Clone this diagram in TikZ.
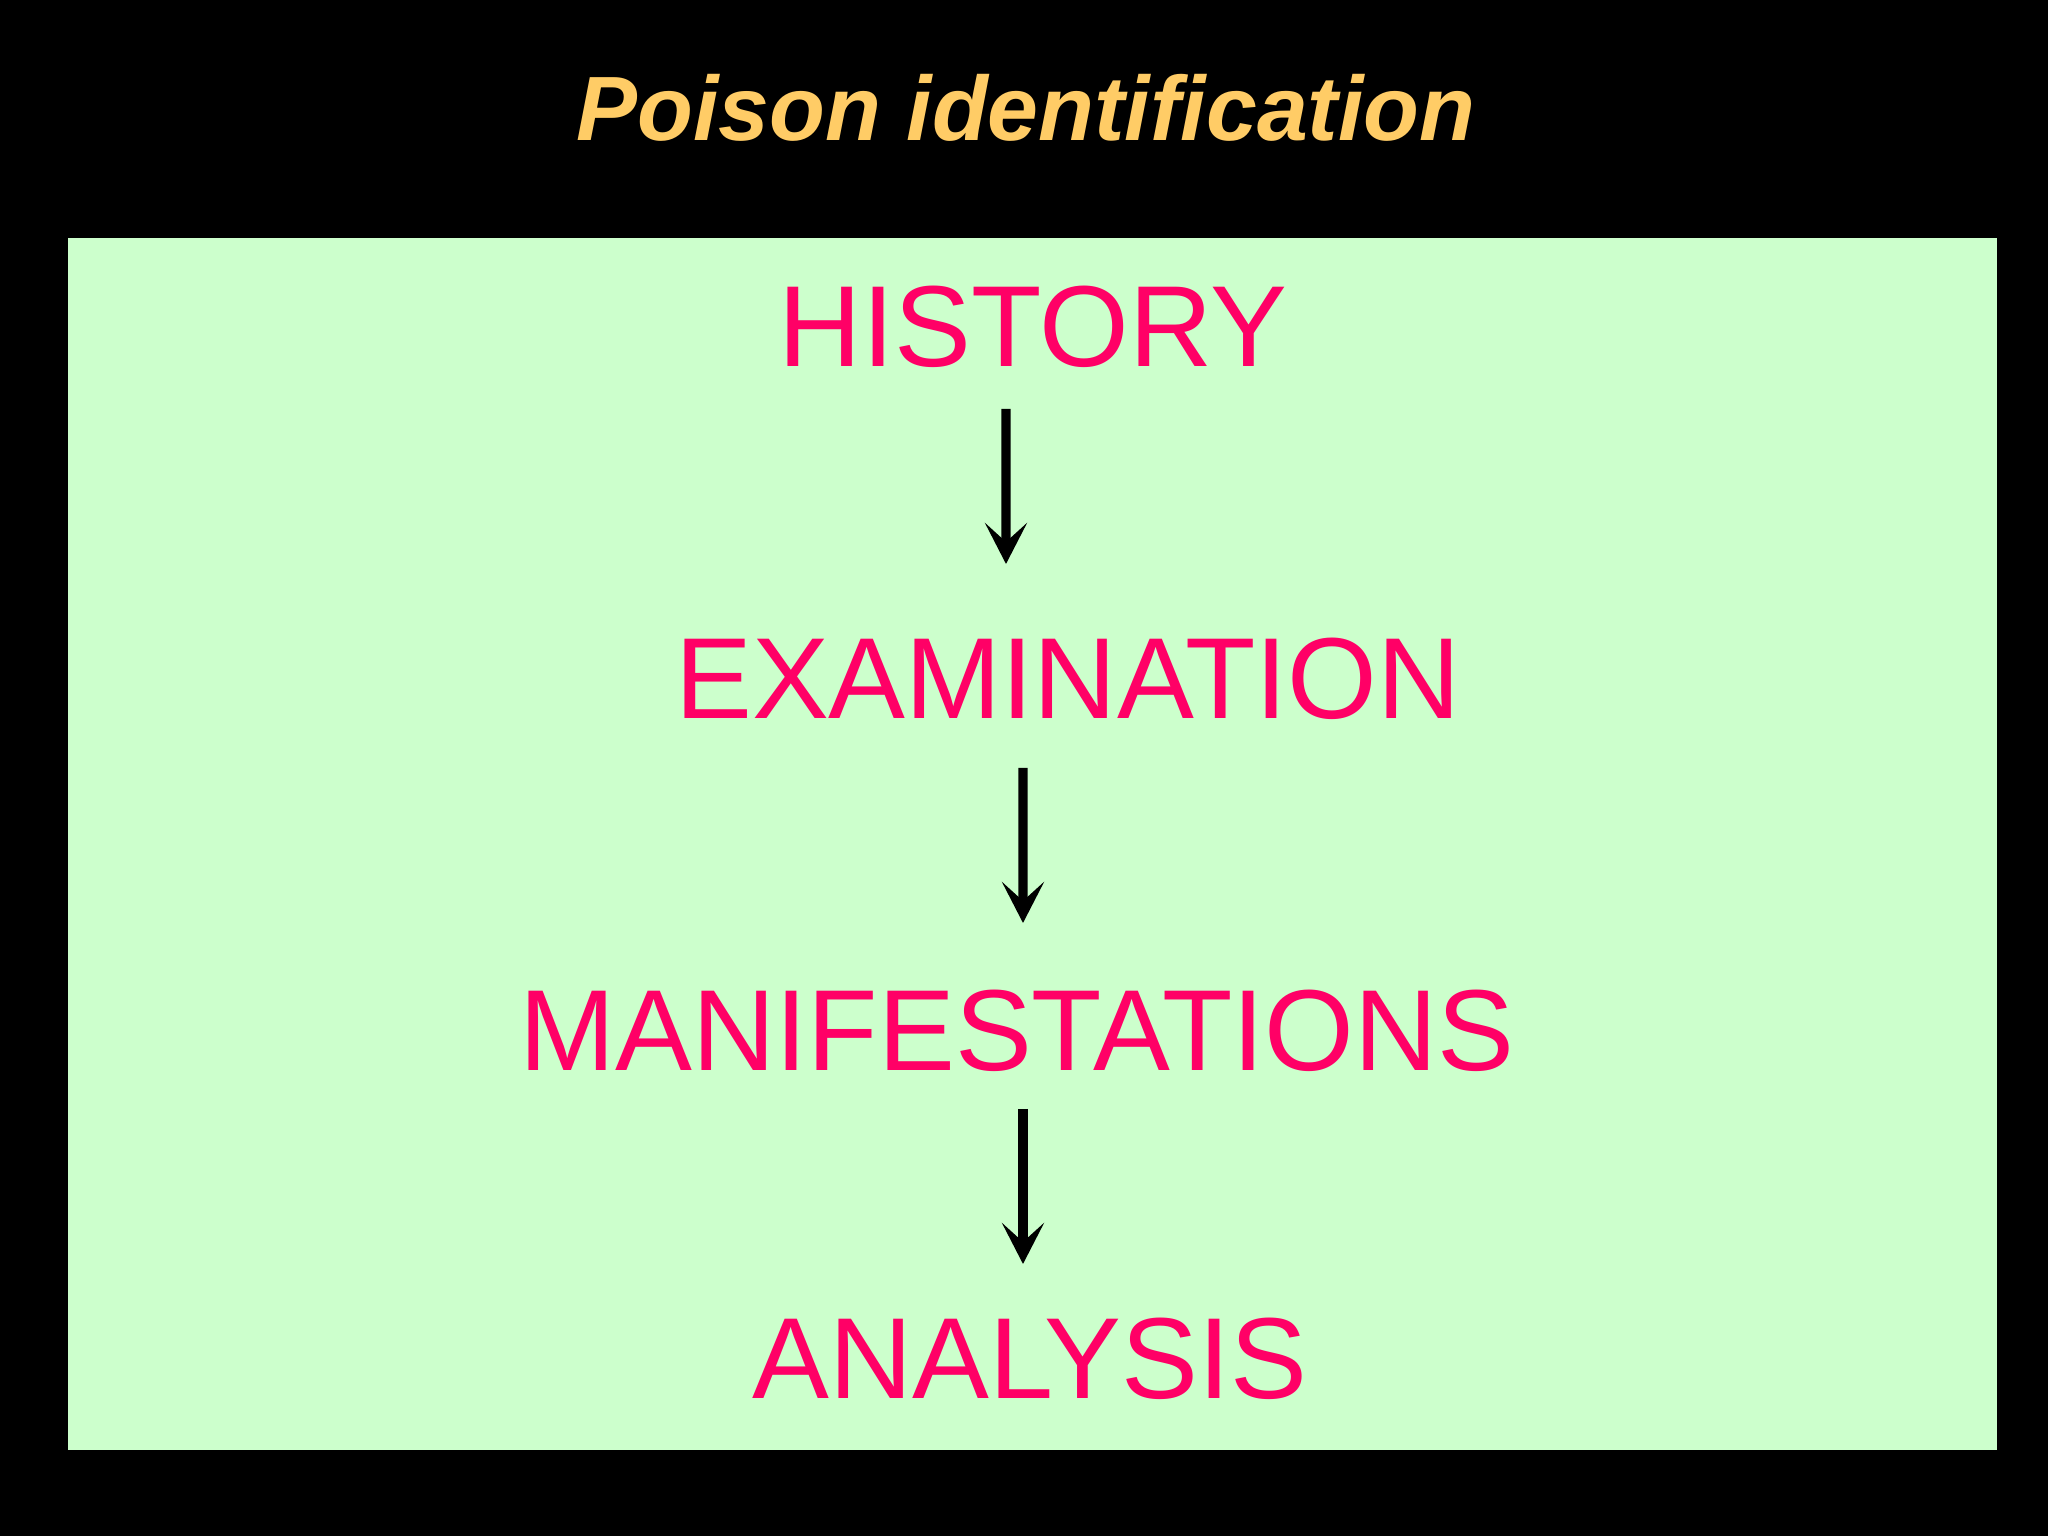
\documentclass[tikz,border=0pt]{standalone}
\usepackage{fontspec}
\setmainfont{Liberation Sans}
\usetikzlibrary{arrows.meta, positioning, calc}
\definecolor{slidegreen}{HTML}{CCFFCC}
\definecolor{steppink}{HTML}{FF0066}
\definecolor{titlegold}{HTML}{FFCC66}

\begin{document}
\begin{tikzpicture}[stage/.style={anchor=base, 
      text=steppink, 
      font=\fontsize{32.8}{36}\selectfont, 
      inner sep=0pt}, 
    flow/.style={line width=2.6pt, 
      -{Stealth[length=4.1mm, width=4.2mm, inset=1.9mm]}}]

  % BACKGROUND

  \fill[black] (0,0) rectangle (20.48,15.36);
  \useasboundingbox (0,0) rectangle (20.48,15.36);
  \fill[slidegreen] (0.68,0.86) rectangle (19.97,12.98);

  \node [anchor=base, 
    text=titlegold, 
    font=\fontsize{26}{30}\selectfont\bfseries\itshape] (title) 
    at (10.26,13.95) {Poison identification};

  \node [stage] (history) at (10.33,11.69) {HISTORY};
  \node [stage] (exam)    at (10.68,8.17)  {EXAMINATION};
  \node [stage] (manif)   at (10.17,4.65)  {MANIFESTATIONS};
  \node [stage] (analysis) at (10.30,1.37) {ANALYSIS};

% ARROWS

  \draw[flow] ($(history.base) + (-0.27,-0.42)$) 
  -- ($(exam.base) + (-0.62,1.55)$);
  \draw[flow] ($(exam.base) + (-0.45,-0.49)$) 
  -- ($(manif.base) + (0.06,1.48)$);
  \draw[flow] ($(manif.base) + (0.06,-0.38)$) 
  -- ($(analysis.base) + (-0.07,1.35)$);

\end{tikzpicture}
\end{document}
